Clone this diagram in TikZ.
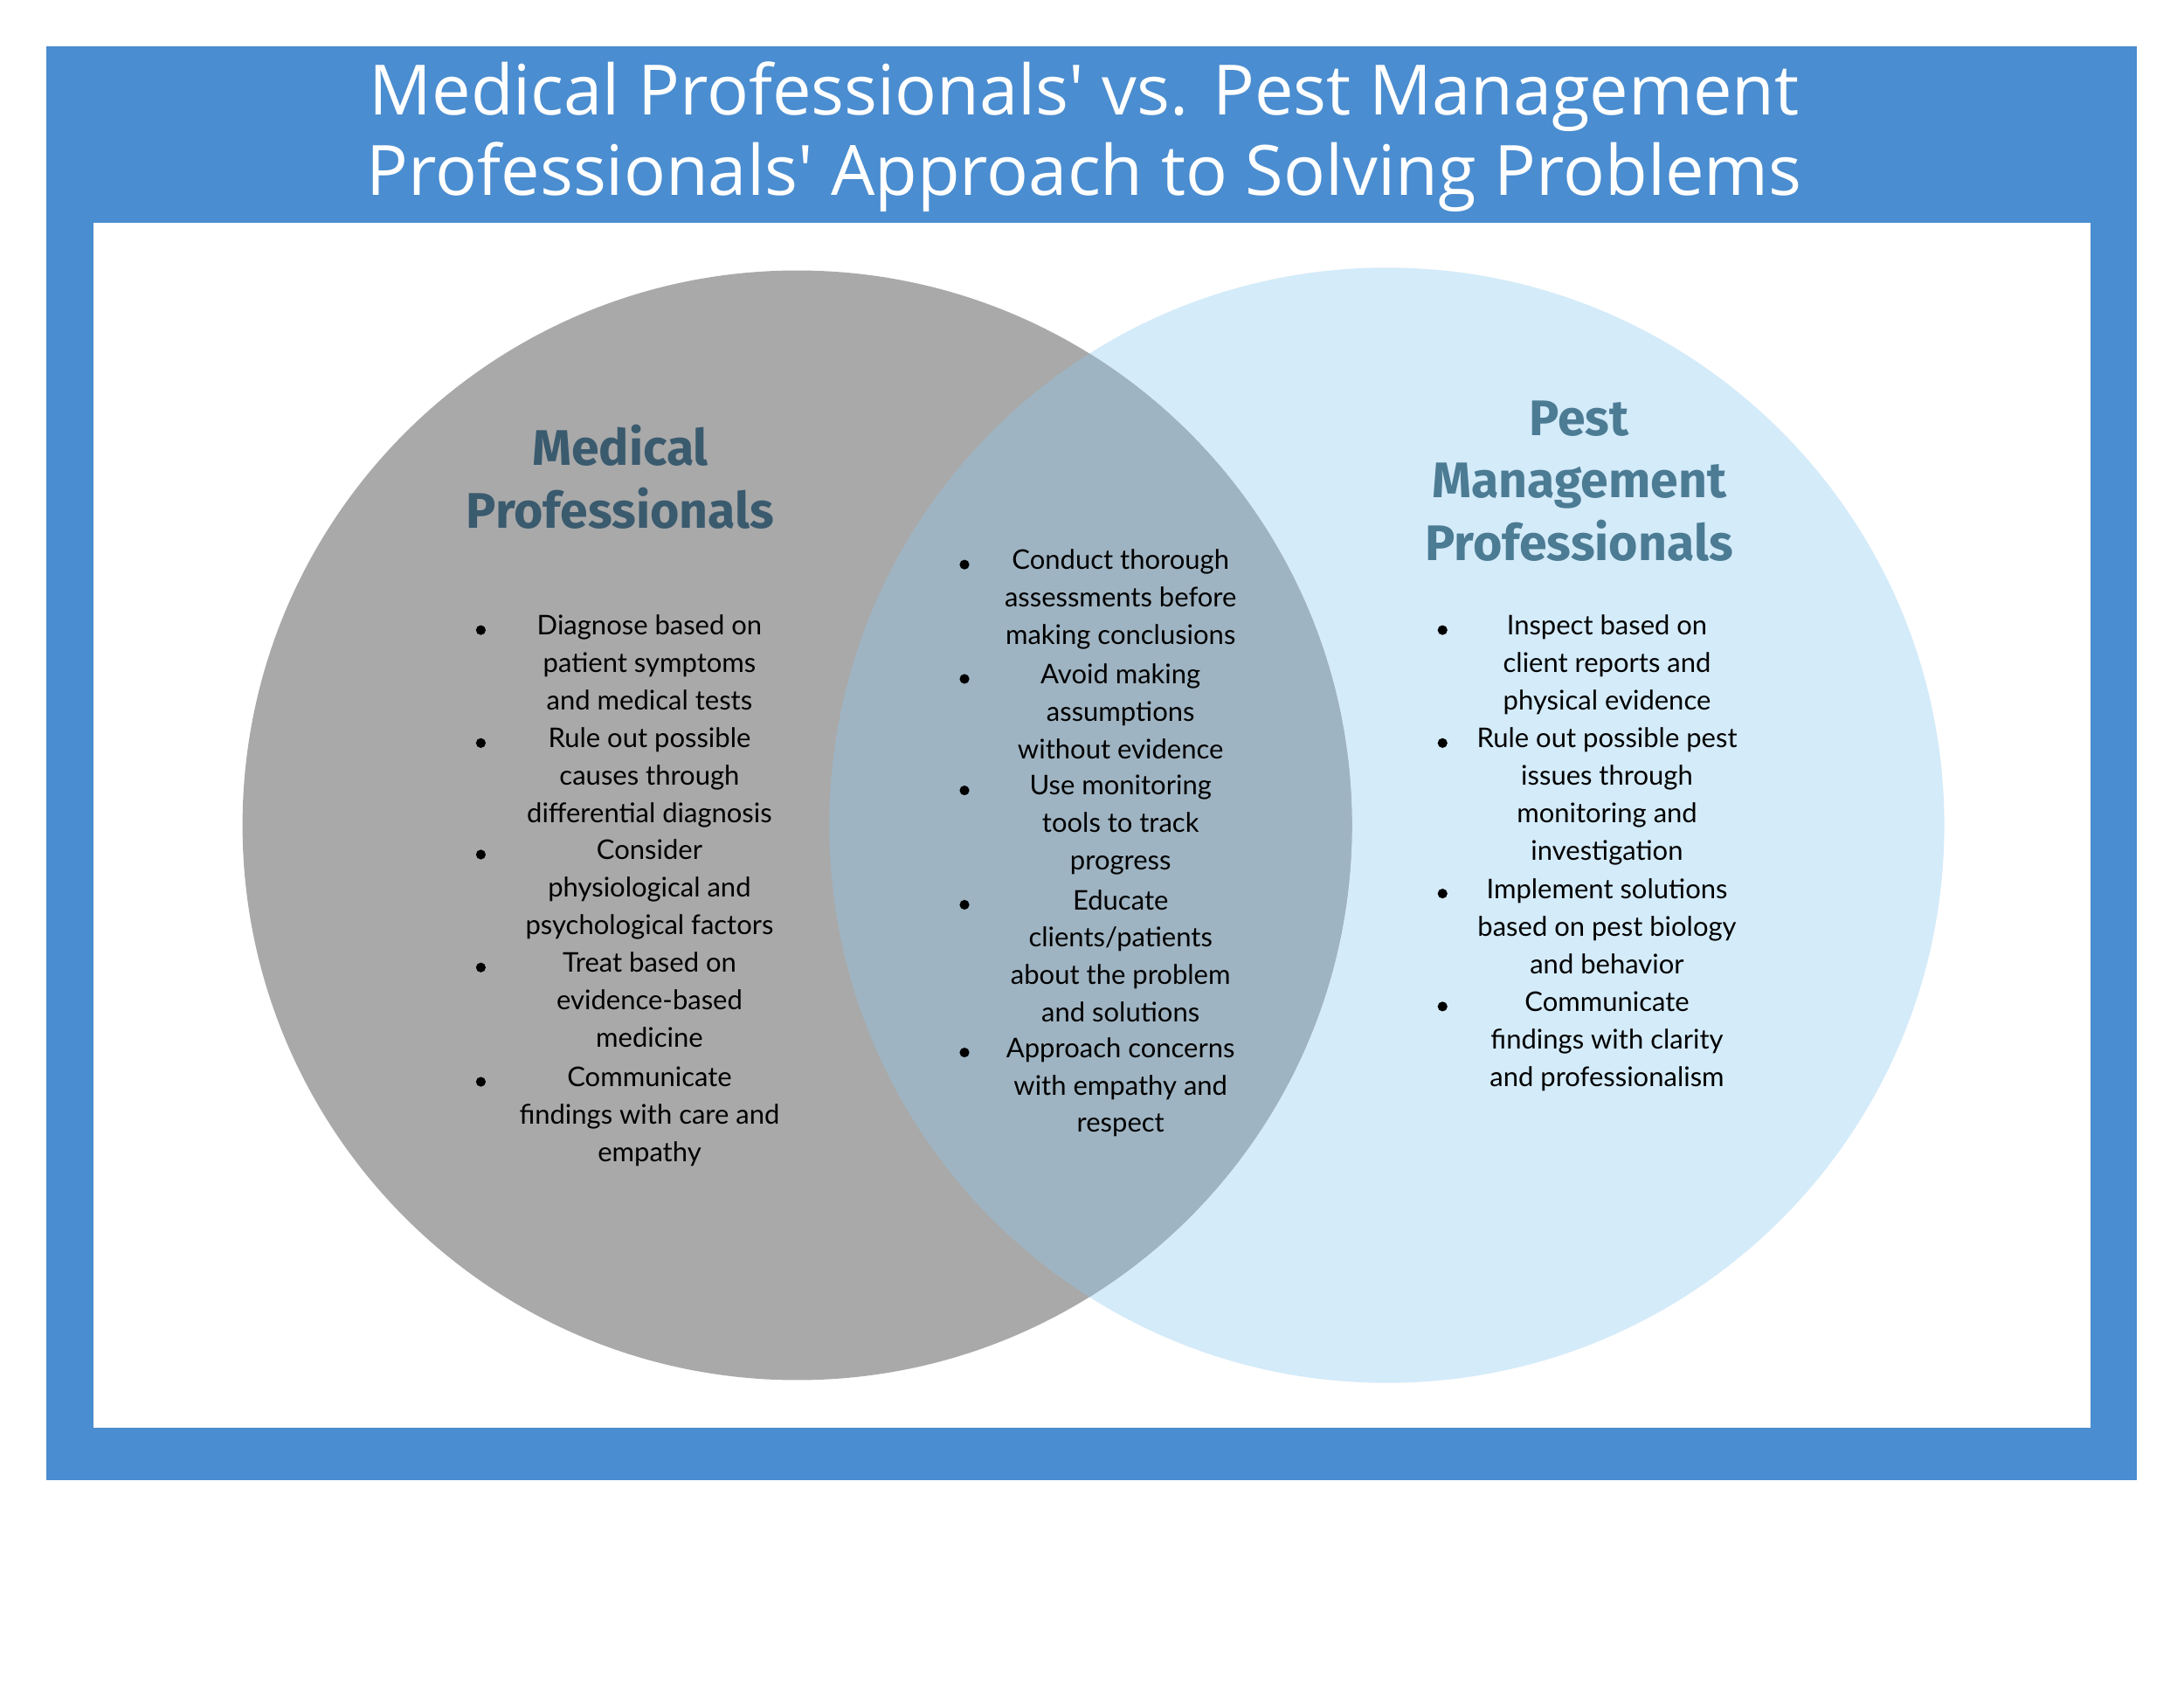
\documentclass[tikz,border=0pt]{standalone}
\usepackage{fontspec}
\setmainfont{Lato}
\newfontfamily\headfont{Fira Sans}
\newfontfamily\titlefont{Open Sans}
\definecolor{frameblue}{HTML}{4A8DD0}
\definecolor{lgray}{HTML}{A9A9A9}
\definecolor{lblue}{HTML}{D4EBF9}
\definecolor{overlap}{HTML}{9FB4C2}
\definecolor{headL}{HTML}{3A5A6E}
\definecolor{headR}{HTML}{4C7B94}
\begin{document}
\begin{tikzpicture}[x=1bp,y=-1bp,
 item/.style={align=center,anchor=north,font=\fontsize{19.5}{27}\selectfont,inner sep=0pt},
 bul/.style={circle,fill=black,inner sep=0pt,minimum size=7bp},
 head/.style={align=center,font=\headfont\bfseries\fontsize{36}{45}\selectfont}]
\useasboundingbox (0,0) rectangle (1567,1211);
\fill[frameblue] (33,33) rectangle (1533,1062);
\fill[white] (67,160) rectangle (1500,1024);
\node[align=center,text=white,font=\titlefont\fontsize{50}{58}\selectfont] (title) at (778,98) {Medical Professionals' vs. Pest Management\\ Professionals' Approach to Solving Problems};
\fill[lblue] (995,592) circle (400);
\fill[lgray] (572,592) circle (398);
\begin{scope}
\clip (995,592) circle (400);
\fill[overlap] (572,592) circle (398);
\end{scope}
\node[head,text=headL] (hl) at (445,342) {Medical\\Professionals};
\node[head,text=headR] (hr) at (1133,345) {Pest\\Management\\Professionals};
% left
\foreach \y/\t in {441/{Diagnose based on\\patient symptoms\\and medical tests},522/{Rule out possible\\causes through\\differential diagnosis},602/{Consider\\physiological and\\psychological factors},683/{Treat based on\\evidence-based\\medicine},765/{Communicate\\findings with care and\\empathy}}{
 \node[item] at (466,\y) {\t};
 \node[bul] at (345,\y+11) {};}
% middle
\foreach \y/\t in {394/{Conduct thorough\\assessments before\\making conclusions},476/{Avoid making\\assumptions\\without evidence},556/{Use monitoring\\tools to track\\progress},638/{Educate\\clients/patients\\about the problem\\and solutions},744/{Approach concerns\\with empathy and\\respect}}{
 \node[item] at (804,\y) {\t};
 \node[bul] at (692,\y+11) {};}
% right
\foreach \y/\t in {441/{Inspect based on\\client reports and\\physical evidence},522/{Rule out possible pest\\issues through\\monitoring and\\investigation},630/{Implement solutions\\based on pest biology\\and behavior},711/{Communicate\\findings with clarity\\and professionalism}}{
 \node[item] at (1153,\y) {\t};
 \node[bul] at (1035,\y+11) {};}
\end{tikzpicture}
\end{document}
